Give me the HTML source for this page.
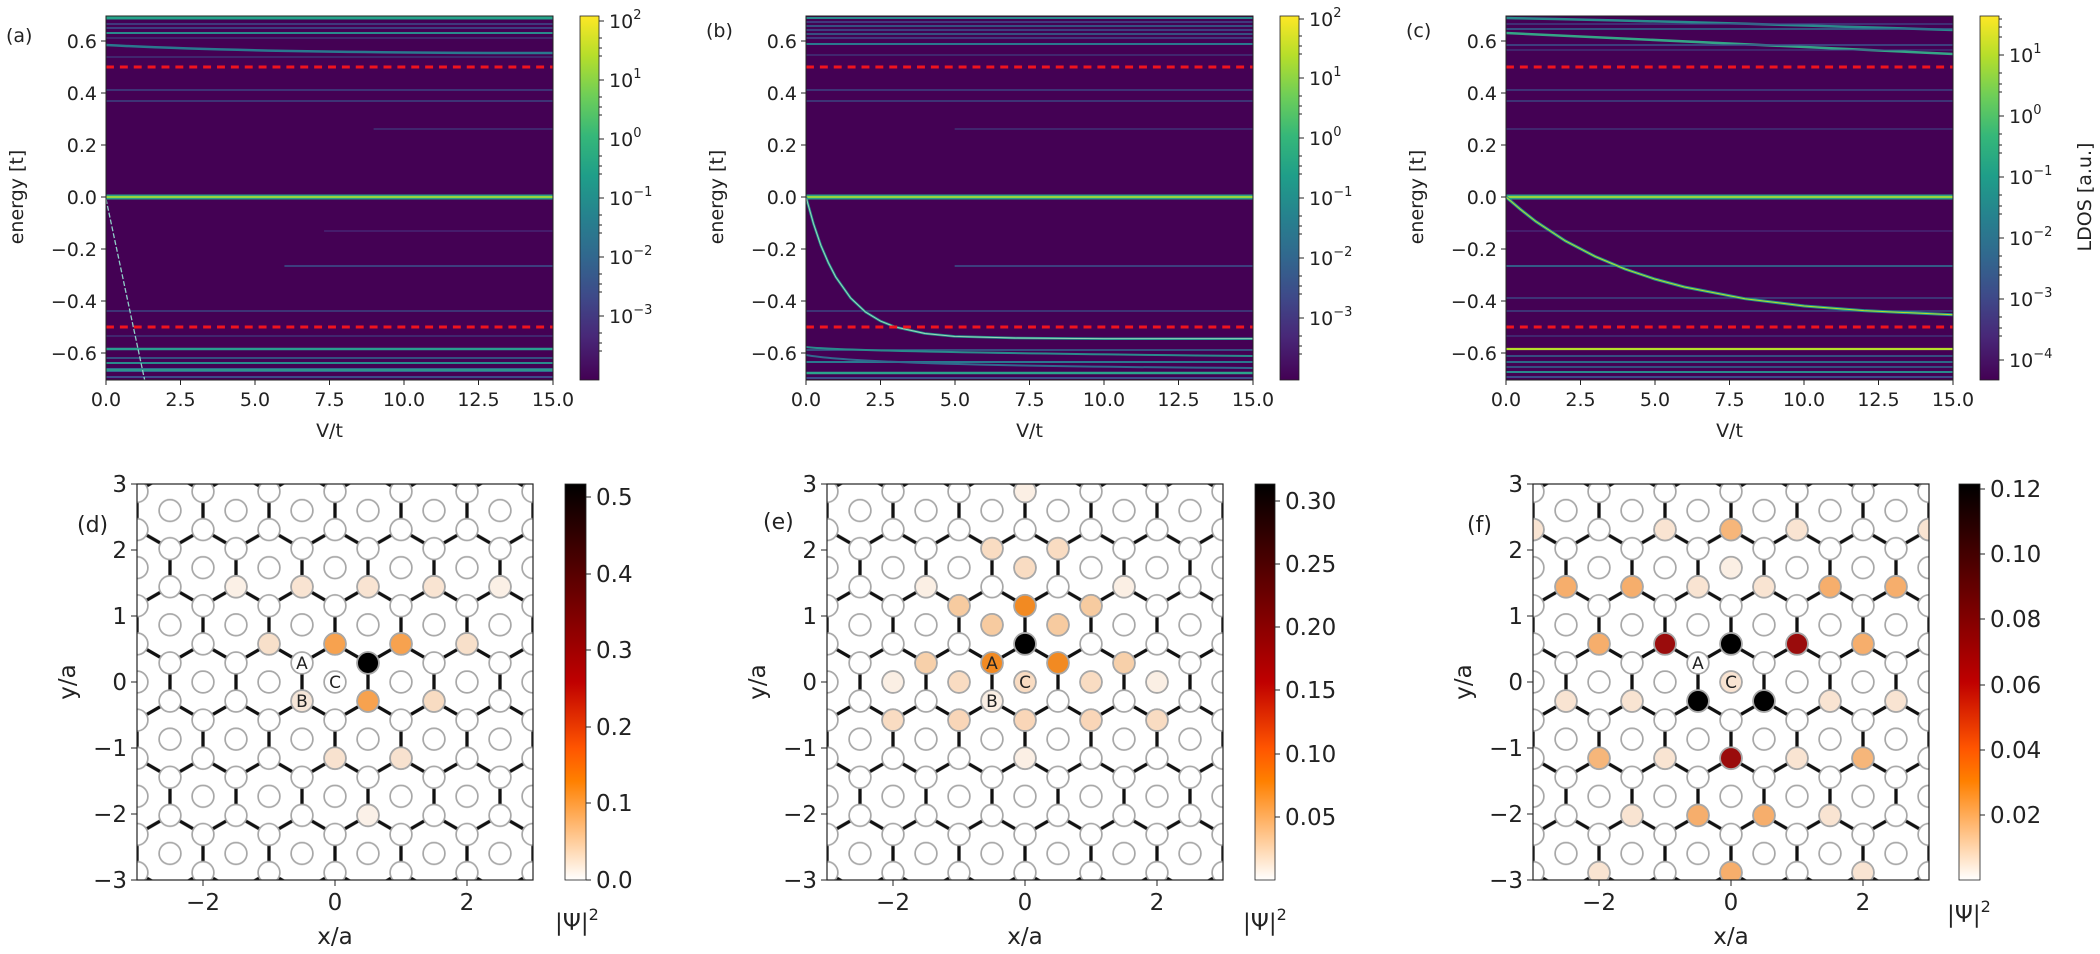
<!DOCTYPE html>
<html><head><meta charset="utf-8"><style>html,body{margin:0;padding:0;background:#fff}svg{display:block}text{font-family:"DejaVu Sans","Liberation Sans",sans-serif;fill:#222}</style></head>
<body>
<svg width="2100" height="954" viewBox="0 0 2100 954" xmlns="http://www.w3.org/2000/svg">
<defs>
<linearGradient id="vir" x1="0" y1="0" x2="0" y2="1">
<stop offset="0" stop-color="#fde725"/><stop offset="0.11" stop-color="#b5de2b"/><stop offset="0.22" stop-color="#6ece58"/><stop offset="0.33" stop-color="#35b779"/><stop offset="0.44" stop-color="#1f9e89"/><stop offset="0.55" stop-color="#26828e"/><stop offset="0.66" stop-color="#31688e"/><stop offset="0.77" stop-color="#3e4a89"/><stop offset="0.88" stop-color="#482878"/><stop offset="1" stop-color="#440154"/>
</linearGradient>
<linearGradient id="heat" x1="0" y1="0" x2="0" y2="1">
<stop offset="0" stop-color="#000"/><stop offset="0.25" stop-color="#600000"/><stop offset="0.5" stop-color="#bf0000"/><stop offset="0.667" stop-color="#ff5500"/><stop offset="0.75" stop-color="#ff8000"/><stop offset="0.875" stop-color="#ffbf80"/><stop offset="1" stop-color="#fff"/>
</linearGradient>
<pattern id="lat" patternUnits="userSpaceOnUse" x="0" y="0" width="1" height="1.7320508">
<g stroke="#111" stroke-width="0.05" fill="none">
<path d="M0,.57735L0,1.1547M1,.57735L1,1.1547M.5,-.2887L.5,.2887M.5,1.4434L.5,2.0207M0,.57735L.5,.2887M1,.57735L.5,.2887M0,1.1547L.5,1.4434M1,1.1547L.5,1.4434"/>
</g>
<g fill="#fff" stroke="#a8a8a8" stroke-width="0.026">
<circle cx="0" cy="0" r=".165"/><circle cx="1" cy="0" r=".165"/><circle cx="0" cy="1.7320508" r=".165"/><circle cx="1" cy="1.7320508" r=".165"/>
<circle cx="0" cy=".57735" r=".165"/><circle cx="1" cy=".57735" r=".165"/><circle cx="0" cy="1.1547" r=".165"/><circle cx="1" cy="1.1547" r=".165"/>
<circle cx=".5" cy=".2887" r=".165"/><circle cx=".5" cy=".866" r=".165"/><circle cx=".5" cy="1.4434" r=".165"/>
</g>
</pattern>
<clipPath id="lclip" clipPathUnits="userSpaceOnUse"><rect x="-3" y="-3" width="6" height="6"/></clipPath>
<clipPath id="hclip"><rect x="0" y="16" width="447" height="364"/></clipPath>
<g id="hax">
<rect x="0" y="16" width="447" height="364" fill="none" stroke="#222" stroke-width="1"/>
<g stroke="#222" stroke-width="1">
<path d="M0,380v5M74.5,380v5M149,380v5M223.5,380v5M298,380v5M372.5,380v5M447,380v5"/>
<path d="M0,41h-5M0,93h-5M0,145h-5M0,197h-5M0,249h-5M0,301h-5M0,353h-5"/>
</g>
<g font-size="19" text-anchor="middle">
<text x="0" y="406">0.0</text><text x="74.5" y="406">2.5</text><text x="149" y="406">5.0</text><text x="223.5" y="406">7.5</text><text x="298" y="406">10.0</text><text x="372.5" y="406">12.5</text><text x="447" y="406">15.0</text>
<text x="223.5" y="437">V/t</text>
</g>
<g font-size="19" text-anchor="end">
<text x="-9" y="48">0.6</text><text x="-9" y="100">0.4</text><text x="-9" y="152">0.2</text><text x="-9" y="204">0.0</text><text x="-9" y="256">−0.2</text><text x="-9" y="308">−0.4</text><text x="-9" y="360">−0.6</text>
</g>
<text font-size="19" text-anchor="middle" transform="translate(-83,197) rotate(-90)">energy [t]</text>
<rect x="474" y="16" width="19" height="364" fill="url(#vir)"/>
<rect x="474" y="16" width="19" height="364" fill="none" stroke="#222" stroke-width="0.8"/>
</g>
<g id="lax">
<rect x="0" y="0" width="396" height="396" fill="none" stroke="#222" stroke-width="1.2"/>
<g stroke="#222" stroke-width="1"><path d="M66,396v6M198,396v6M330,396v6M0,0h-6M0,66h-6M0,132h-6M0,198h-6M0,264h-6M0,330h-6M0,396h-6"/></g>
<g font-size="23" text-anchor="middle"><text x="66" y="426">−2</text><text x="198" y="426">0</text><text x="330" y="426">2</text><text x="198" y="460">x/a</text></g>
<g font-size="23" text-anchor="end"><text x="-10" y="8">3</text><text x="-10" y="74">2</text><text x="-10" y="140">1</text><text x="-10" y="206">0</text><text x="-10" y="272">−1</text><text x="-10" y="338">−2</text><text x="-10" y="404">−3</text></g>
<text font-size="23" text-anchor="middle" transform="translate(-62,198) rotate(-90)">y/a</text>
</g>
</defs>

<!-- panel a -->
<g transform="translate(106,0)">
<g clip-path="url(#hclip)">
<rect x="0" y="16" width="447" height="364" fill="#440154"/>
<g fill="none" transform="scale(0.99113,1)">
<line x1="0" y1="18" x2="451" y2="18" stroke="#26a48a" stroke-width="3"/>
<line x1="0" y1="24" x2="451" y2="24" stroke="#3e4a89" stroke-width="1.5"/>
<line x1="0" y1="28" x2="451" y2="28" stroke="#3b528b" stroke-width="1.5"/>
<line x1="0" y1="33" x2="451" y2="33" stroke="#2a8a8c" stroke-width="2"/>
<line x1="0" y1="38" x2="451" y2="38" stroke="#3e4a89" stroke-width="1"/>
<path d="M0,45 Q150,53 451,53" stroke="#2a788e" stroke-width="2.5"/>
<line x1="0" y1="57" x2="451" y2="57" stroke="#3e4a89" stroke-width="1"/>
<line x1="0" y1="90" x2="451" y2="90" stroke="#3b528b" stroke-width="1.3"/>
<line x1="0" y1="101" x2="451" y2="101" stroke="#3b528b" stroke-width="1.2"/>
<line x1="270" y1="129" x2="451" y2="129" stroke="#3e4a89" stroke-width="1"/>
<line x1="0" y1="197" x2="451" y2="197" stroke="#2c9f86" stroke-width="5"/>
<line x1="0" y1="197" x2="451" y2="197" stroke="#a5db36" stroke-width="1.8"/>
<line x1="220" y1="231" x2="451" y2="231" stroke="#472d7b" stroke-width="1.2"/>
<line x1="180" y1="266" x2="451" y2="266" stroke="#3b528b" stroke-width="1.5"/>
<line x1="0" y1="311" x2="451" y2="311" stroke="#3b528b" stroke-width="1.2"/>
<line x1="0" y1="336" x2="451" y2="336" stroke="#3e4a89" stroke-width="1"/>
<line x1="0" y1="349" x2="451" y2="349" stroke="#2a9d8f" stroke-width="2.5"/>
<line x1="0" y1="358" x2="451" y2="358" stroke="#31688e" stroke-width="1.5"/>
<line x1="0" y1="363" x2="451" y2="363" stroke="#2a8a8c" stroke-width="2"/>
<line x1="0" y1="370" x2="451" y2="370" stroke="#31688e" stroke-width="4"/>
<line x1="0" y1="370" x2="451" y2="370" stroke="#2ca58c" stroke-width="1.5"/>
<line x1="0" y1="377" x2="451" y2="377" stroke="#3e4a89" stroke-width="2"/>
<line x1="0" y1="199" x2="39" y2="380" stroke="#8fd0c7" stroke-width="1.3" stroke-dasharray="5,2"/>
<line x1="0" y1="67" x2="451" y2="67" stroke="#f0141e" stroke-width="3" stroke-dasharray="8,6"/>
<line x1="0" y1="327" x2="451" y2="327" stroke="#f0141e" stroke-width="3" stroke-dasharray="8,6"/>
</g>
</g>
<use href="#hax"/>
<text font-size="19" x="-100" y="42">(a)</text>
<g stroke="#222" stroke-width="1"><path d="M493,21h5M493,80h5M493,139h5M493,198h5M493,257h5M493,316h5"/>
<path d="M493,38h3M493,48h3M493,56h3M493,97h3M493,107h3M493,115h3M493,156h3M493,166h3M493,174h3M493,215h3M493,225h3M493,233h3M493,274h3M493,284h3M493,292h3M493,333h3M493,343h3M493,351h3"/></g>
<g font-size="19">
<text x="503" y="28">10<tspan dy="-9" font-size="13">2</tspan></text>
<text x="503" y="87">10<tspan dy="-9" font-size="13">1</tspan></text>
<text x="503" y="146">10<tspan dy="-9" font-size="13">0</tspan></text>
<text x="503" y="205">10<tspan dy="-9" font-size="13">−1</tspan></text>
<text x="503" y="264">10<tspan dy="-9" font-size="13">−2</tspan></text>
<text x="503" y="323">10<tspan dy="-9" font-size="13">−3</tspan></text>
</g>
</g>

<!-- panel b -->
<g transform="translate(806,0)">
<g clip-path="url(#hclip)">
<rect x="0" y="16" width="447" height="364" fill="#440154"/>
<g fill="none" transform="scale(0.99113,1)">
<line x1="0" y1="18" x2="451" y2="18" stroke="#2a8a8c" stroke-width="2"/>
<line x1="0" y1="22" x2="451" y2="22" stroke="#3e4a89" stroke-width="1.5"/>
<line x1="0" y1="26" x2="451" y2="26" stroke="#31688e" stroke-width="1.5"/>
<line x1="0" y1="30" x2="451" y2="30" stroke="#3b528b" stroke-width="1.5"/>
<line x1="0" y1="34" x2="451" y2="34" stroke="#31688e" stroke-width="1.5"/>
<line x1="0" y1="38" x2="451" y2="38" stroke="#3e4a89" stroke-width="1.5"/>
<line x1="0" y1="44" x2="451" y2="44" stroke="#2a788e" stroke-width="2"/>
<line x1="0" y1="55" x2="451" y2="55" stroke="#3e4a89" stroke-width="1"/>
<line x1="0" y1="90" x2="451" y2="90" stroke="#3b528b" stroke-width="1.3"/>
<line x1="0" y1="101" x2="451" y2="101" stroke="#3b528b" stroke-width="1.2"/>
<line x1="150" y1="129" x2="451" y2="129" stroke="#3e4a89" stroke-width="1"/>
<line x1="0" y1="197" x2="451" y2="197" stroke="#2c9f86" stroke-width="5"/>
<line x1="0" y1="197" x2="451" y2="197" stroke="#a5db36" stroke-width="1.8"/>
<line x1="150" y1="266" x2="451" y2="266" stroke="#3b528b" stroke-width="1.5"/>
<line x1="0" y1="311" x2="451" y2="311" stroke="#3b528b" stroke-width="1.2"/>
<line x1="0" y1="350" x2="451" y2="350" stroke="#31688e" stroke-width="1.5"/>
<path d="M0,347 Q40,352 451,356" stroke="#2a8a8c" stroke-width="2"/>
<line x1="0" y1="362" x2="451" y2="362" stroke="#2a788e" stroke-width="2"/>
<path d="M0,355 Q60,366 451,368" stroke="#31688e" stroke-width="2"/>
<line x1="0" y1="373" x2="451" y2="373" stroke="#2ca58c" stroke-width="2.5"/>
<line x1="0" y1="378" x2="451" y2="378" stroke="#3e4a89" stroke-width="2"/>
<polyline points="0,197 7.5,223.5 15,245.4 22.6,262.8 30,277 45,298 60,312 75,321 90,327 120,333.5 150,336.4 210.5,338 301,338.7 451,338.7" stroke="#21918c" stroke-width="2.5"/>
<polyline points="0,197 7.5,223.5 15,245.4 22.6,262.8 30,277 45,298 60,312 75,321 90,327 120,333.5 150,336.4 210.5,338 301,338.7 451,338.7" stroke="#9fd8b8" stroke-width="0.9"/>
<line x1="0" y1="67" x2="451" y2="67" stroke="#f0141e" stroke-width="3" stroke-dasharray="8,6"/>
<line x1="0" y1="327" x2="451" y2="327" stroke="#f0141e" stroke-width="3" stroke-dasharray="8,6"/>
</g>
</g>
<use href="#hax"/>
<text font-size="19" x="-100" y="37">(b)</text>
<g stroke="#222" stroke-width="1"><path d="M493,19h5M493,78h5M493,138h5M493,198h5M493,258h5M493,318h5"/>
<path d="M493,36h3M493,46h3M493,54h3M493,96h3M493,106h3M493,114h3M493,156h3M493,166h3M493,174h3M493,216h3M493,226h3M493,234h3M493,276h3M493,286h3M493,294h3M493,336h3M493,346h3M493,354h3"/></g>
<g font-size="19">
<text x="503" y="26">10<tspan dy="-9" font-size="13">2</tspan></text>
<text x="503" y="85">10<tspan dy="-9" font-size="13">1</tspan></text>
<text x="503" y="145">10<tspan dy="-9" font-size="13">0</tspan></text>
<text x="503" y="205">10<tspan dy="-9" font-size="13">−1</tspan></text>
<text x="503" y="265">10<tspan dy="-9" font-size="13">−2</tspan></text>
<text x="503" y="325">10<tspan dy="-9" font-size="13">−3</tspan></text>
</g>
</g>

<!-- panel c -->
<g transform="translate(1506,0)">
<g clip-path="url(#hclip)">
<rect x="0" y="16" width="447" height="364" fill="#440154"/>
<g fill="none" transform="scale(0.99113,1)">
<path d="M0,18 Q200,22 451,30" stroke="#2a8a8c" stroke-width="2.5"/>
<line x1="0" y1="24" x2="451" y2="24" stroke="#3e4a89" stroke-width="1.2"/>
<line x1="0" y1="29" x2="451" y2="29" stroke="#31688e" stroke-width="1.5"/>
<path d="M0,33 Q200,42 451,54" stroke="#35a586" stroke-width="2.5"/>
<line x1="0" y1="45" x2="451" y2="45" stroke="#3b528b" stroke-width="1.5"/>
<line x1="0" y1="50" x2="451" y2="50" stroke="#3e4a89" stroke-width="1"/>
<line x1="0" y1="90" x2="451" y2="90" stroke="#3b528b" stroke-width="1.3"/>
<line x1="0" y1="101" x2="451" y2="101" stroke="#3b528b" stroke-width="1.2"/>
<line x1="0" y1="129" x2="451" y2="129" stroke="#3e4a89" stroke-width="1"/>
<line x1="0" y1="197" x2="451" y2="197" stroke="#2c9f86" stroke-width="5"/>
<line x1="0" y1="197" x2="451" y2="197" stroke="#a5db36" stroke-width="1.8"/>
<line x1="0" y1="231" x2="451" y2="231" stroke="#472d7b" stroke-width="1.2"/>
<line x1="0" y1="266" x2="451" y2="266" stroke="#31688e" stroke-width="1.8"/>
<line x1="0" y1="298" x2="451" y2="298" stroke="#3b528b" stroke-width="1.2"/>
<line x1="0" y1="311" x2="451" y2="311" stroke="#3b528b" stroke-width="1.2"/>
<line x1="0" y1="336" x2="451" y2="336" stroke="#3e4a89" stroke-width="1"/>
<line x1="0" y1="349" x2="451" y2="349" stroke="#b5de2b" stroke-width="2.2"/>
<line x1="0" y1="356" x2="451" y2="356" stroke="#31688e" stroke-width="1.5"/>
<line x1="0" y1="362" x2="451" y2="362" stroke="#2a788e" stroke-width="1.8"/>
<line x1="0" y1="367" x2="451" y2="367" stroke="#31688e" stroke-width="1.5"/>
<line x1="0" y1="372" x2="451" y2="372" stroke="#2a8a8c" stroke-width="2"/>
<line x1="0" y1="377" x2="451" y2="377" stroke="#3e4a89" stroke-width="2"/>
<polyline points="0,197 15,209.7 30,221.4 60,241 90,256.5 120,269 150,279 180,287 241,298.7 301,306 361,310.6 451,314.8" stroke="#21918c" stroke-width="3"/>
<polyline points="0,197 15,209.7 30,221.4 60,241 90,256.5 120,269 150,279 180,287 241,298.7 301,306 361,310.6 451,314.8" stroke="#b5de2b" stroke-width="1"/>
<line x1="0" y1="67" x2="451" y2="67" stroke="#f0141e" stroke-width="3" stroke-dasharray="8,6"/>
<line x1="0" y1="327" x2="451" y2="327" stroke="#f0141e" stroke-width="3" stroke-dasharray="8,6"/>
</g>
</g>
<use href="#hax"/>
<text font-size="19" x="-100" y="37">(c)</text>
<g stroke="#222" stroke-width="1"><path d="M493,55h5M493,116h5M493,177h5M493,238h5M493,299h5M493,360h5"/>
<path d="M493,19h3M493,27h3M493,37h3M493,73h3M493,84h3M493,92h3M493,134h3M493,145h3M493,153h3M493,195h3M493,206h3M493,214h3M493,256h3M493,267h3M493,275h3M493,317h3M493,328h3M493,336h3"/></g>
<g font-size="19">
<text x="503" y="62">10<tspan dy="-9" font-size="13">1</tspan></text>
<text x="503" y="123">10<tspan dy="-9" font-size="13">0</tspan></text>
<text x="503" y="184">10<tspan dy="-9" font-size="13">−1</tspan></text>
<text x="503" y="245">10<tspan dy="-9" font-size="13">−2</tspan></text>
<text x="503" y="306">10<tspan dy="-9" font-size="13">−3</tspan></text>
<text x="503" y="367">10<tspan dy="-9" font-size="13">−4</tspan></text>
</g>
<text font-size="19" text-anchor="middle" transform="translate(585,197) rotate(-90)">LDOS [a.u.]</text>
</g>

<!-- panel d -->
<g transform="translate(137,484)">
<g transform="translate(198,198) scale(66,-66)" clip-path="url(#lclip)">
<rect x="-3" y="-3" width="6" height="6" fill="url(#lat)"/>
<g stroke="#a8a8a8" stroke-width="0.026">
<circle cx=".5" cy=".2887" r=".165" fill="#000"/>
<circle cx="0" cy=".5774" r=".165" fill="#f7a24f"/><circle cx="1" cy=".5774" r=".165" fill="#f7a24f"/><circle cx=".5" cy="-.2887" r=".165" fill="#f7a24f"/>
<circle cx="-1" cy=".5774" r=".165" fill="#f8e0ca"/><circle cx="2" cy=".5774" r=".165" fill="#f8e0ca"/><circle cx="1.5" cy="-.2887" r=".165" fill="#f8dcc2"/>
<circle cx="-1.5" cy="1.4434" r=".165" fill="#fbf0e6"/><circle cx="-.5" cy="1.4434" r=".165" fill="#f9e4d2"/><circle cx=".5" cy="1.4434" r=".165" fill="#f9e4d2"/><circle cx="1.5" cy="1.4434" r=".165" fill="#f9e4d2"/><circle cx="2.5" cy="1.4434" r=".165" fill="#fbf0e6"/>
<circle cx="0" cy="-1.1547" r=".165" fill="#f8e2cf"/><circle cx="1" cy="-1.1547" r=".165" fill="#f8e2cf"/>
<circle cx=".5" cy="-2.0207" r=".165" fill="#fbf1e8"/>
<circle cx="-.5" cy="-.2887" r=".165" fill="#f6e6d8"/>
</g>
</g>
<use href="#lax"/>
<g font-size="17" text-anchor="middle" fill="#333"><text x="165" y="185">A</text><text x="165" y="223">B</text><text x="198" y="204">C</text></g>
<text font-size="22" x="-60" y="48">(d)</text>
<rect x="428" y="0" width="21" height="396" fill="url(#heat)"/>
<rect x="428" y="0" width="21" height="396" fill="none" stroke="#222" stroke-width="0.8"/>
<g stroke="#222" stroke-width="1"><path d="M449,396h5M449,319h5M449,243h5M449,166h5M449,90h5M449,13h5"/></g>
<g font-size="23"><text x="459" y="404">0.0</text><text x="459" y="327">0.1</text><text x="459" y="251">0.2</text><text x="459" y="174">0.3</text><text x="459" y="98">0.4</text><text x="459" y="21">0.5</text>
<text x="418" y="446">|Ψ|<tspan dy="-10" font-size="16">2</tspan></text></g>
</g>

<!-- panel e -->
<g transform="translate(827,484)">
<g transform="translate(198,198) scale(66,-66)" clip-path="url(#lclip)">
<rect x="-3" y="-3" width="6" height="6" fill="url(#lat)"/>
<g stroke="#a8a8a8" stroke-width="0.026">
<circle cx="0" cy=".5774" r=".165" fill="#000"/>
<circle cx="0" cy="1.1547" r=".165" fill="#f28a22"/><circle cx=".5" cy=".2887" r=".165" fill="#f28a22"/><circle cx="-.5" cy=".2887" r=".165" fill="#f28a22"/>
<circle cx="-1" cy="1.1547" r=".165" fill="#f7cba0"/><circle cx="1" cy="1.1547" r=".165" fill="#f7cba0"/><circle cx="-.5" cy=".866" r=".165" fill="#f7cba0"/><circle cx=".5" cy=".866" r=".165" fill="#f7cba0"/><circle cx="-1.5" cy=".2887" r=".165" fill="#f7d0aa"/><circle cx="1.5" cy=".2887" r=".165" fill="#f7d0aa"/>
<circle cx="-1" cy="0" r=".165" fill="#f9dcc2"/><circle cx="1" cy="0" r=".165" fill="#f9dcc2"/><circle cx="0" cy="0" r=".165" fill="#f9dcc2"/>
<circle cx="-2" cy="-.5774" r=".165" fill="#f9dcc2"/><circle cx="-1" cy="-.5774" r=".165" fill="#f9d6b8"/><circle cx="0" cy="-.5774" r=".165" fill="#f9d6b8"/><circle cx="1" cy="-.5774" r=".165" fill="#f9d6b8"/><circle cx="2" cy="-.5774" r=".165" fill="#f9dcc2"/>
<circle cx="-.5" cy="2.0207" r=".165" fill="#f9dcc2"/><circle cx=".5" cy="2.0207" r=".165" fill="#f9dcc2"/><circle cx="0" cy="1.732" r=".165" fill="#f9dcc2"/>
<circle cx="-2" cy="0" r=".165" fill="#fbefe4"/><circle cx="2" cy="0" r=".165" fill="#fbefe4"/><circle cx="0" cy="2.8868" r=".165" fill="#fbefe4"/><circle cx="-1.5" cy="1.4434" r=".165" fill="#fbefe4"/><circle cx="1.5" cy="1.4434" r=".165" fill="#fbefe4"/><circle cx="0" cy="-1.1547" r=".165" fill="#fbefe4"/><circle cx="-.5" cy="-.2887" r=".165" fill="#fbefe4"/>
</g>
</g>
<use href="#lax"/>
<g font-size="17" text-anchor="middle" fill="#333"><text x="165" y="185">A</text><text x="165" y="223">B</text><text x="198" y="204">C</text></g>
<text font-size="22" x="-64" y="45">(e)</text>
<rect x="428" y="0" width="20" height="396" fill="url(#heat)"/>
<rect x="428" y="0" width="20" height="396" fill="none" stroke="#222" stroke-width="0.8"/>
<g stroke="#222" stroke-width="1"><path d="M448,333h5M448,270h5M448,206h5M448,143h5M448,80h5M448,17h5"/></g>
<g font-size="23"><text x="458" y="341">0.05</text><text x="458" y="278">0.10</text><text x="458" y="214">0.15</text><text x="458" y="151">0.20</text><text x="458" y="88">0.25</text><text x="458" y="25">0.30</text>
<text x="416" y="446">|Ψ|<tspan dy="-10" font-size="16">2</tspan></text></g>
</g>

<!-- panel f -->
<g transform="translate(1533,484)">
<g transform="translate(198,198) scale(66,-66)" clip-path="url(#lclip)">
<rect x="-3" y="-3" width="6" height="6" fill="url(#lat)"/>
<g stroke="#a8a8a8" stroke-width="0.026">
<circle cx="0" cy=".5774" r=".165" fill="#000"/><circle cx="-.5" cy="-.2887" r=".165" fill="#000"/><circle cx=".5" cy="-.2887" r=".165" fill="#000"/>
<circle cx="-1" cy=".5774" r=".165" fill="#9a0c0c"/><circle cx="1" cy=".5774" r=".165" fill="#9a0c0c"/><circle cx="0" cy="-1.1547" r=".165" fill="#9a0c0c"/>
<circle cx="-2" cy=".5774" r=".165" fill="#f6ae6c"/><circle cx="2" cy=".5774" r=".165" fill="#f6ae6c"/>
<circle cx="-2.5" cy="1.4434" r=".165" fill="#f6ae6c"/><circle cx="-1.5" cy="1.4434" r=".165" fill="#f6ae6c"/><circle cx="1.5" cy="1.4434" r=".165" fill="#f6ae6c"/><circle cx="2.5" cy="1.4434" r=".165" fill="#f6ae6c"/>
<circle cx="-.5" cy="-2.0207" r=".165" fill="#f6ae6c"/><circle cx=".5" cy="-2.0207" r=".165" fill="#f6ae6c"/><circle cx="0" cy="-2.8868" r=".165" fill="#f6ae6c"/><circle cx="0" cy="2.3094" r=".165" fill="#f6b67a"/>
<circle cx="-2" cy="-1.1547" r=".165" fill="#f6b67a"/><circle cx="2" cy="-1.1547" r=".165" fill="#f6b67a"/>
<circle cx="-1" cy="2.3094" r=".165" fill="#f9e4d2"/><circle cx="1" cy="2.3094" r=".165" fill="#f9e4d2"/><circle cx="-.5" cy="1.4434" r=".165" fill="#f9e4d2"/><circle cx=".5" cy="1.4434" r=".165" fill="#f9e4d2"/><circle cx="0" cy="1.732" r=".165" fill="#fbefe4"/><circle cx="0" cy="0" r=".165" fill="#f9e4d2"/>
<circle cx="-2.5" cy="-.2887" r=".165" fill="#f9e4d2"/><circle cx="-1.5" cy="-.2887" r=".165" fill="#f9e4d2"/><circle cx="1.5" cy="-.2887" r=".165" fill="#f9e4d2"/><circle cx="2.5" cy="-.2887" r=".165" fill="#f9e4d2"/>
<circle cx="-1" cy="-1.1547" r=".165" fill="#f9e4d2"/><circle cx="1" cy="-1.1547" r=".165" fill="#f9e4d2"/><circle cx="-1.5" cy="-2.0207" r=".165" fill="#f9e4d2"/><circle cx="1.5" cy="-2.0207" r=".165" fill="#f9e4d2"/><circle cx="-2" cy="-2.8868" r=".165" fill="#f9e4d2"/><circle cx="2" cy="-2.8868" r=".165" fill="#f9e4d2"/>
<circle cx="-3" cy="2.3094" r=".165" fill="#f9e4d2"/><circle cx="3" cy="2.3094" r=".165" fill="#f9e4d2"/>
</g>
</g>
<use href="#lax"/>
<g font-size="17" text-anchor="middle" fill="#333"><text x="165" y="185">A</text><text x="198" y="204">C</text></g>
<text font-size="22" x="-66" y="48">(f)</text>
<rect x="426" y="0" width="21" height="396" fill="url(#heat)"/>
<rect x="426" y="0" width="21" height="396" fill="none" stroke="#222" stroke-width="0.8"/>
<g stroke="#222" stroke-width="1"><path d="M447,331h5M447,266h5M447,201h5M447,135h5M447,70h5M447,5h5"/></g>
<g font-size="23"><text x="457" y="339">0.02</text><text x="457" y="274">0.04</text><text x="457" y="209">0.06</text><text x="457" y="143">0.08</text><text x="457" y="78">0.10</text><text x="457" y="13">0.12</text>
<text x="414" y="438">|Ψ|<tspan dy="-10" font-size="16">2</tspan></text></g>
</g>
</svg>
</body></html>
